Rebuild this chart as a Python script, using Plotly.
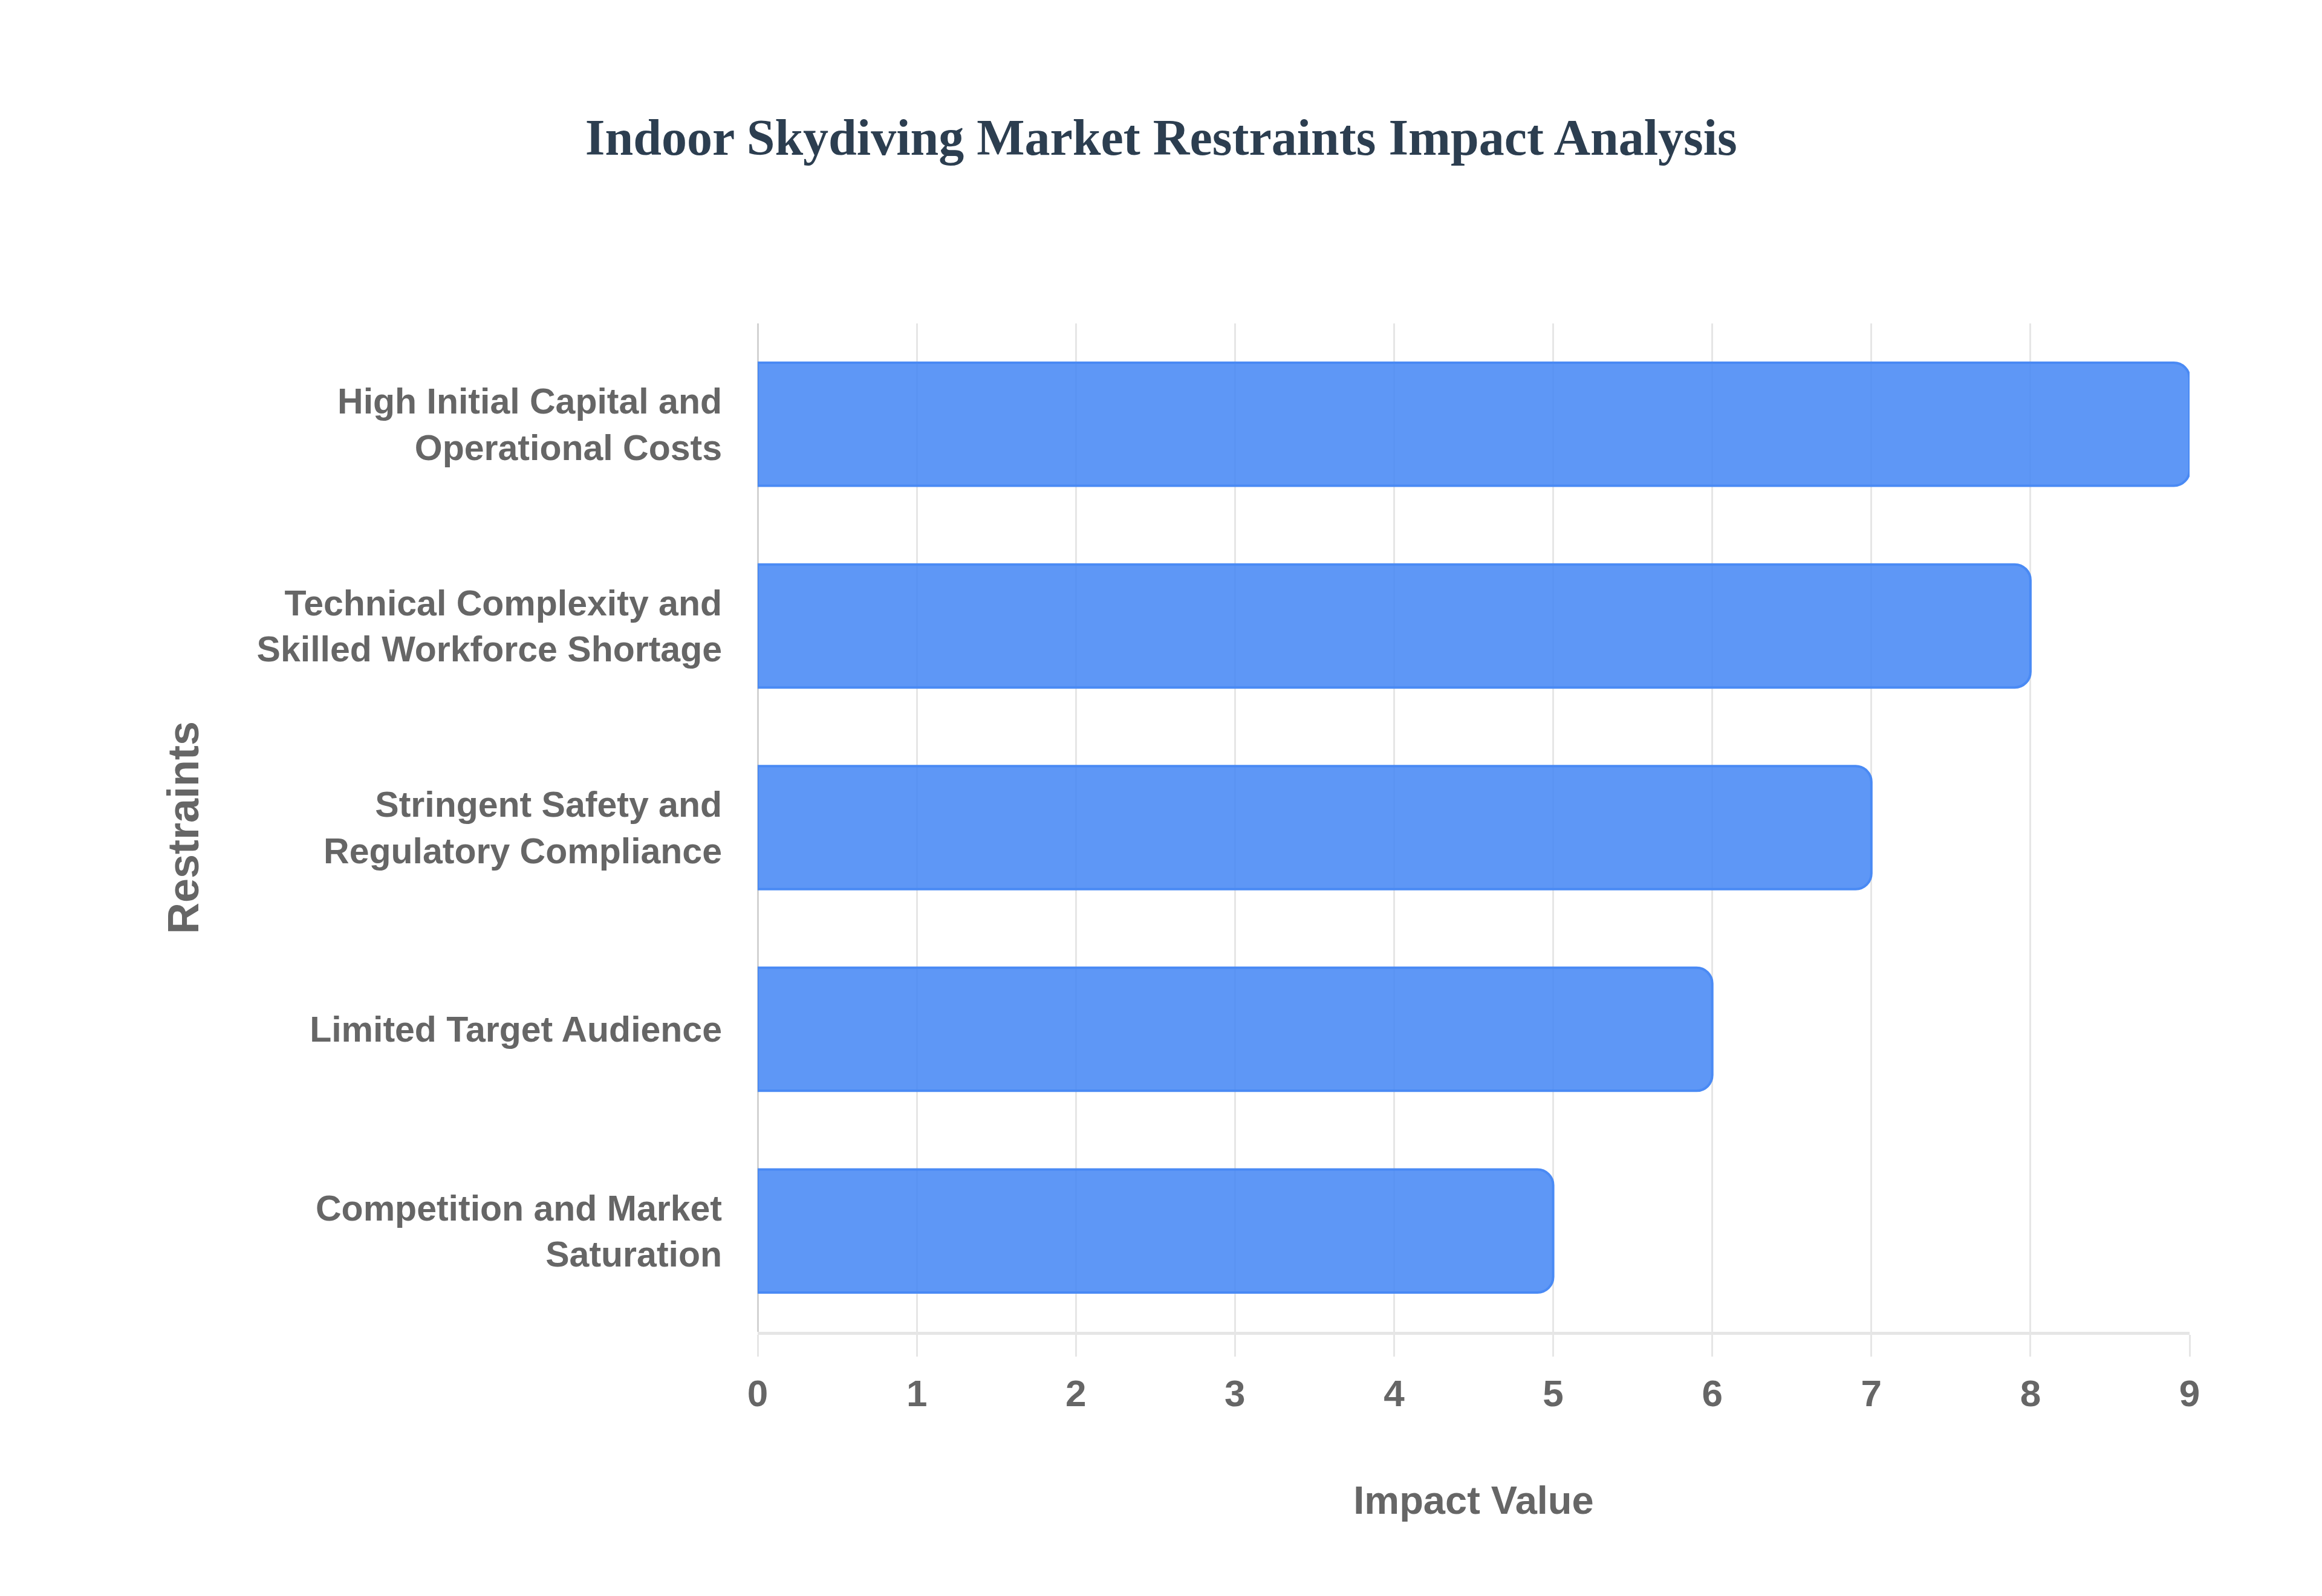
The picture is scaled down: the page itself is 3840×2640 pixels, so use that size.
import plotly.graph_objs as go

# restraints listed top to bottom as in the chart
restraints = [
    'High Initial Capital and<br>Operational Costs',
    'Technical Complexity and<br>Skilled Workforce Shortage',
    'Stringent Safety and<br>Regulatory Compliance',
    'Limited Target Audience',
    'Competition and Market<br>Saturation',
]
impact = [9, 8, 7, 6, 5]

x_ticks = [0, 1, 2, 3, 4, 5, 6, 7, 8, 9]

sans = 'Liberation Sans, Arial, sans-serif'
grey = '#666666'

trace0 = go.Bar(x = impact,
                y = restraints,
                orientation = 'h',
                marker = dict(color = 'rgba(66,133,244,0.85)',
                              line = dict(color = '#4a8af4', width = 4),
                              cornerradius = 26),
                width = 0.61,
                hoverinfo = 'x+y'
                )

layout = go.Layout(
    width = 3840,
    height = 2640,
    margin = dict(l = 1245, r = 227, t = 527, b = 445),
    paper_bgcolor = 'white',
    plot_bgcolor = 'white',
    showlegend = False,
    title = dict(text = '<b>Indoor Skydiving Market Restraints Impact Analysis</b>',
                 x = 0.498, xanchor = 'center',
                 y = 1 - 219 / 2640, yanchor = 'middle',
                 font = dict(family = 'Liberation Serif, Times New Roman, serif',
                             size = 84, color = '#2c3e50')),
    xaxis = dict(range = [0, 9.0],
                 tickvals = x_ticks,
                 showgrid = True, gridcolor = '#e6e6e6', gridwidth = 3,
                 zeroline = True, zerolinecolor = '#d2d2d2', zerolinewidth = 3,
                 showline = True, linecolor = '#e6e6e6', linewidth = 5,
                 ticks = 'outside', ticklen = 36, tickwidth = 3, tickcolor = '#e6e6e6',
                 ticklabelstandoff = 8,
                 tickfont = dict(family = sans, size = 62, color = grey, weight = 'bold'),
                 title = dict(text = 'Impact Value', standoff = 122,
                              font = dict(family = sans, size = 65, color = grey,
                                          weight = 'bold'))),
    yaxis = dict(autorange = 'reversed',
                 showgrid = False,
                 ticks = '',
                 ticklabelstandoff = 58,
                 tickfont = dict(family = sans, size = 59, color = grey, weight = 'bold'),
                 title = dict(text = 'Restraints', standoff = 72,
                              font = dict(family = sans, size = 72, color = grey,
                                          weight = 'bold'))),
)

fig = go.Figure(data = [trace0], layout = layout)

fig.write_html('out.html')
